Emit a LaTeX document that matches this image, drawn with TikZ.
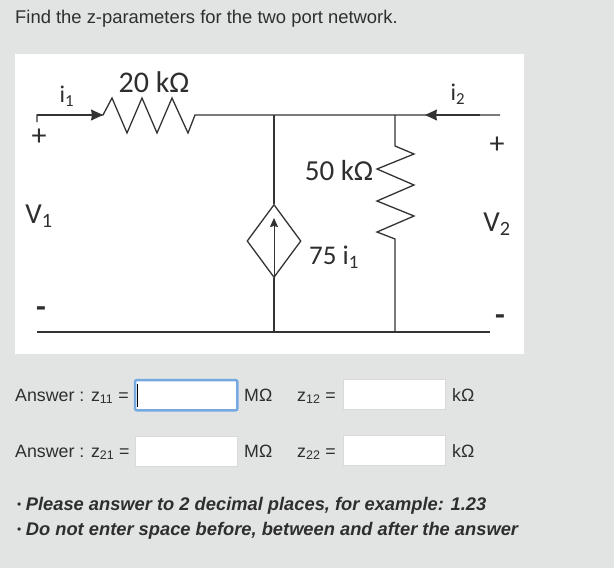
\documentclass[tikz,border=0pt]{standalone}
\usepackage{fontspec}
\setmainfont{Liberation Sans}
\newfontfamily\circuitfont{Carlito}
\usetikzlibrary{shapes.geometric,arrows.meta}
\definecolor{pagegray}{HTML}{E2E4E4}
\definecolor{wirecol}{HTML}{333333}
\definecolor{inktext}{HTML}{2E2E2E}
\definecolor{focusblue}{HTML}{76A9E0}
\newcommand{\notebullet}{\raisebox{2pt}{\normalfont\fontsize{12}{14}\selectfont\textbullet}\hspace{4.5pt}}
\tikzset{
	wire/.style={draw=wirecol,line width=1.3pt},
	current/.style={wire,-{Stealth[length=12pt,width=11pt,inset=1pt]}},
	circlabel/.style={inner sep=0pt,text=inktext,font=\circuitfont\fontsize{29}{30}\selectfont},
	smalllabel/.style={inner sep=0pt,text=inktext,font=\circuitfont\fontsize{24}{26}\selectfont},
	signlabel/.style={inner sep=0pt,text=inktext,font=\circuitfont\fontsize{30}{32}\selectfont},
	dashlabel/.style={inner sep=0pt,text=inktext,font=\circuitfont\bfseries\fontsize{32}{34}\selectfont},
	titletext/.style={inner sep=0pt,anchor=base west,text=inktext,font=\fontsize{18.4}{20}\selectfont},
	formtext/.style={inner sep=0pt,anchor=base west,text=inktext,font=\fontsize{17.8}{20}\selectfont},
	notetext/.style={inner sep=0pt,anchor=base west,text=inktext,font=\bfseries\itshape\fontsize{18.3}{20}\selectfont},
	answerbox/.style={draw=black!15,fill=white,minimum width=102pt,minimum height=30pt,inner sep=0pt,anchor=north west},
	depsource/.style={diamond,aspect=0.74,draw=wirecol,line width=1.3pt,fill=white,minimum width=54pt,minimum height=73pt,inner sep=0pt}
}
\begin{document}
\begin{tikzpicture}[x=1pt,y=-1pt]
	\useasboundingbox (0,0) rectangle (614,568);
	\fill[pagegray] (0,0) rectangle (614,568);
	\fill[white] (15,54) rectangle (524,354);
	\node[titletext] (title) at (15,23) {Find the z-parameters for the two port network.};
	% circuit
	\coordinate (inleft) at (37,122);
	\coordinate (intop) at (37,115);
	\coordinate (rastart) at (103,115);
	\coordinate (raend) at (195,115);
	\coordinate (topmid) at (274,115);
	\coordinate (topright) at (395,115);
	\coordinate (outtop) at (500,115);
	\coordinate (arrowin) at (480,115);
	\coordinate (arrowtip) at (425,115);
	\coordinate (botleft) at (37,332);
	\coordinate (botmid) at (274,332);
	\coordinate (botright) at (395,332);
	\coordinate (outbot) at (490,332);
	\coordinate (rbstart) at (395,146);
	\coordinate (rbend) at (395,239);
	\draw[wire] (inleft) -- (intop) -- (rastart) -- (112,98) -- (127,133) -- (142,98) -- (157,133) -- (172,98) -- (188,133) -- (raend) -- (outtop);
	\draw[current] (intop) -- (rastart);
	\draw[current] (arrowin) -- (arrowtip);
	\node[depsource] (source) at (274,241) {};
	\draw[wire] (topmid) -- (source.north);
	\draw[wire] (source.south) -- (botmid);
	\draw[draw=wirecol,line width=.8pt,-{Stealth[length=9pt,width=8pt,inset=1pt]}] (source.south) -- (274,218);
	\draw[wire] (topright) -- (rbstart) -- (414,154) -- (377,169) -- (414,185) -- (377,201) -- (414,216) -- (377,232) -- (rbend) -- (botright);
	\draw[wire] (botleft) -- (outbot);
	\node[circlabel,font=\circuitfont\fontsize{30}{32}\selectfont] (ra) at (154,82) {20 k\symbol{"03A9}};
	\node[circlabel] (rb) at (339,171) {50 k\symbol{"03A9}};
	\node[circlabel,font=\circuitfont\fontsize{27}{30}\selectfont] (gain) at (334,257) {75 i\textsubscript{1}};
	\node[smalllabel] (ione) at (67,96) {i\textsubscript{1}};
	\node[smalllabel] (itwo) at (458,94) {i\textsubscript{2}};
	\node[circlabel] (vone) at (39,216) {V\textsubscript{1}};
	\node[circlabel] (vtwo) at (497,224) {V\textsubscript{2}};
	\node[signlabel] (plusone) at (39,137) {+};
	\node[signlabel] (plustwo) at (497,145) {+};
	\node[dashlabel] (minusone) at (41,312) {-};
	\node[dashlabel] (minustwo) at (500,320) {-};
	% answers
	\node[answerbox] (zoneone) at (135,380) {};
	\draw[focusblue,line width=2.5pt,rounded corners=2pt] (zoneone.south west) rectangle (zoneone.north east);
	\draw[black,line width=.7pt] (137,384) -- (137,407);
	\node[answerbox] (ztwoone) at (135,436) {};
	\node[answerbox] (zonetwo) at (343,379) {};
	\node[answerbox] (ztwotwo) at (343,435) {};
	\node[formtext] (aone) at (15,401) {Answer : z\textsubscript{11} =};
	\node[formtext] (atwo) at (15,457) {Answer : z\textsubscript{21} =};
	\node[formtext] (bone) at (297,401) {z\textsubscript{12} =};
	\node[formtext] (btwo) at (297,457) {z\textsubscript{22} =};
	\node[formtext] (uone) at (244,401) {M\symbol{"03A9}};
	\node[formtext] (utwo) at (244,457) {M\symbol{"03A9}};
	\node[formtext] (uthree) at (452,401) {k\symbol{"03A9}};
	\node[formtext] (ufour) at (452,457) {k\symbol{"03A9}};
	% notes
	\node[notetext] (noteone) at (17,510) {\notebullet Please answer to 2 decimal places, for example: 1.23};
	\node[notetext] (notetwo) at (17,535) {\notebullet Do not enter space before, between and after the answer};
\end{tikzpicture}
\end{document}
